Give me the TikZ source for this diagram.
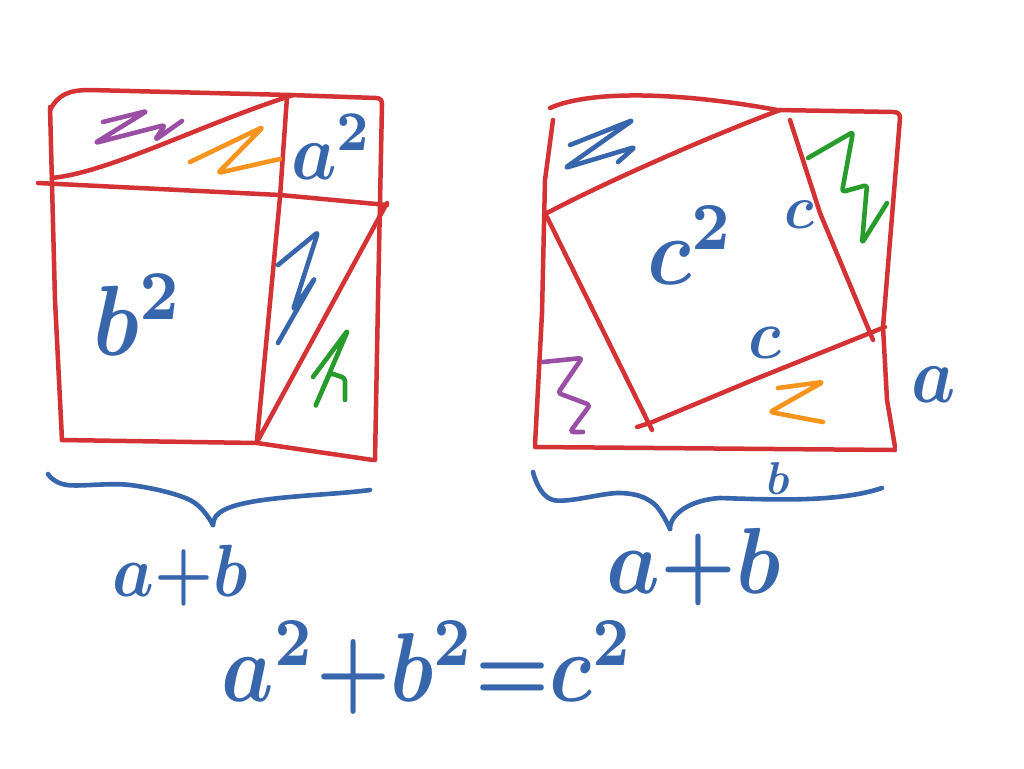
\documentclass[tikz,border=0pt]{standalone}
\usepackage{graphicx}
\definecolor{myred}{RGB}{212,50,52}
\definecolor{myblue}{RGB}{56,102,172}
\definecolor{mypurple}{RGB}{155,78,166}
\definecolor{myorange}{RGB}{247,148,30}
\definecolor{mygreen}{RGB}{40,155,45}
\newcommand{\handtxt}[3]{\scalebox{#1}[#2]{\boldmath$#3$}}
\begin{document}
\begin{tikzpicture}[x=1pt,y=-1pt,
  redline/.style={draw=myred,line width=4.5pt,line cap=round,line join=round},
  scribble/.style={line width=4.6pt,line cap=round,line join=round,rounded corners=3pt},
  bracestroke/.style={draw=myblue,line width=4.6pt,line cap=round,line join=round},
  lbl/.style={text=myblue,inner sep=0pt}]
\useasboundingbox[fill=white] (0,0) rectangle (1024,768);

% ---------- left square ----------
\draw[redline] (50,110) .. controls (58,95) and (68,90) .. (90,90) -- (290,95) -- (376,98) .. controls (380,98) and (382,100) .. (382,104);
\draw[redline] (50,107) -- (55,300) -- (62,440);
\draw[redline] (382,104) -- (378,300) -- (375,460);
\draw[redline] (62,440) -- (257,443) -- (373,460);
\draw[redline] (38,183) -- (280,195) -- (387,205);
\draw[redline] (287,97) -- (280,197) -- (257,440);
\draw[redline] (52,178) .. controls (110,172) and (200,125) .. (293,95);
\draw[redline] (387,203) -- (257,442);

\draw[scribble,mypurple] (103,122) -- (147,111) -- (95,143) -- (165,125) -- (155,140) -- (182,121);
\draw[scribble,myorange] (190,162) -- (263,127) -- (218,173) -- (280,159);
\draw[scribble,myblue] (278,265) -- (318,232) -- (293,310) -- (315,278) -- (278,343);
\draw[scribble,mygreen] (313,377) -- (348,330) -- (315,407) -- (330,373) -- (345,378) -- (345,400);

\node[lbl] (a2L) at (332,147) {\handtxt{7.2}{8}{a^{2}}};
\node[lbl] (b2L) at (139,315) {\handtxt{8.8}{10}{b^{2}}};

% ---------- right square ----------
\draw[redline] (550,108) .. controls (590,90) and (680,92) .. (777,110) -- (893,112) .. controls (898,112) and (900,114) .. (900,118);
\draw[redline] (553,120) -- (545,180) -- (542,313) -- (535,445);
\draw[redline] (535,447) -- (895,450);
\draw[redline] (900,118) -- (883,327) -- (887,400) -- (895,447);
\draw[redline] (547,213) .. controls (600,185) and (700,140) .. (780,110);
\draw[redline] (790,120) -- (820,213) -- (873,340);
\draw[redline] (885,327) -- (753,380) -- (650,423) -- (637,427);
\draw[redline] (547,217) -- (652,430);

\draw[scribble,myblue] (570,145) -- (633,120) -- (565,168) -- (635,147) -- (618,162);
\draw[scribble,mygreen] (808,158) -- (853,132) -- (842,192) -- (867,185) -- (862,243) -- (887,203);
\draw[scribble,mypurple] (543,362) -- (582,358) -- (558,393) -- (590,405) -- (570,432) -- (583,432);
\draw[scribble,myorange] (778,388) -- (823,382) -- (770,412) -- (823,422);

\node[lbl] (c2R) at (691,245) {\handtxt{8.6}{9.6}{c^{2}}};
\node[lbl] (cTop) at (799,215) {\handtxt{5.8}{6.2}{c}};
\node[lbl] (cLow) at (765,343) {\handtxt{6.4}{7}{c}};
\node[lbl] (aR) at (934,385) {\handtxt{7}{8}{a}};
\node[lbl] (bR) at (778,479) {\handtxt{4.4}{4.6}{b}};

% ---------- braces ----------
\coordinate (tipL) at (213,525);
\coordinate (tipR) at (670,529);
\draw[bracestroke] plot[smooth,tension=0.6] coordinates {(48,474) (67,485) (130,485) (190,500) (213,525)};
\draw[bracestroke] (tipL) .. controls (213,512) and (228,505) .. (263,500) .. controls (300,495) and (340,494) .. (370,490);
\draw[bracestroke] plot[smooth,tension=0.6] coordinates {(533,472) (553,500) (620,493) (653,503) (670,529)};
\draw[bracestroke] (tipR) .. controls (670,514) and (690,500) .. (720,498) .. controls (780,500) and (840,502) .. (882,488);

\node[lbl] (sumL) at (180,576) {\handtxt{6.6}{7.4}{a{+}b}};
\node[lbl] (sumR) at (694,567) {\handtxt{8.5}{9.4}{a{+}b}};

% ---------- equation ----------
\node[lbl] (eq) at (428,668) {\handtxt{8.3}{9.8}{a^{2}{+}b^{2}{=}c^{2}}};
\end{tikzpicture}
\end{document}
